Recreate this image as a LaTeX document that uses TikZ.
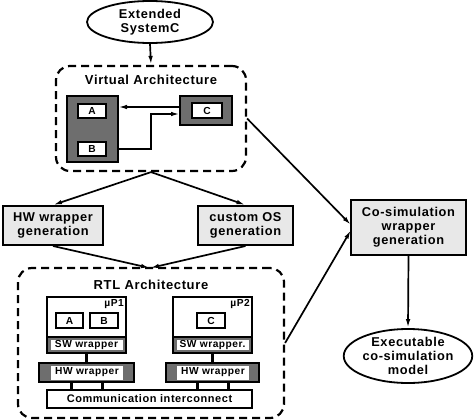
\documentclass[tikz,border=0pt]{standalone}
\usepackage{fontspec}
\setmainfont{Liberation Sans}[LetterSpace=5]
\usetikzlibrary{shapes.geometric,arrows.meta}
\definecolor{dgrey}{gray}{0.43}
\definecolor{lgrey}{gray}{0.91}
\begin{document}
\begin{tikzpicture}[x=1pt,y=-1pt,
  big/.style={font=\fontsize{12.8}{14.2}\selectfont\bfseries},
  title/.style={font=\fontsize{13}{15}\selectfont\bfseries},
  small/.style={font=\fontsize{10.2}{11}\selectfont\bfseries},
  genbox/.style={draw, line width=2pt, fill=lgrey, align=center, inner sep=0, big},
  dashbox/.style={draw, line width=2.2pt, dash pattern=on 8pt off 5pt, rounded corners=14pt, inner sep=0},
  gbox/.style={draw, line width=1.3pt, fill=dgrey, inner sep=0},
  wbox/.style={draw, line width=1.3pt, fill=white, inner sep=0, small},
  plain/.style={inner sep=0, small},
  oval/.style={ellipse, draw, line width=1.8pt, fill=white, align=center, inner sep=0, big},
  arr/.style={line width=1.7pt, -{Latex[length=9pt,width=4.5pt]}},
  link/.style={line width=3pt}
]
\useasboundingbox (0,0) rectangle (474,420);

% top ellipse
\node[oval, minimum width=126pt, minimum height=42pt] (ext) at (150,22) {Extended\\SystemC};

% virtual architecture
\node[dashbox, minimum width=190pt, minimum height=105pt] (va) at (151,118.5) {};
\node[title] (vat) at (151,80) {Virtual Architecture};
\node[gbox, minimum width=51pt, minimum height=66pt] (lg) at (92.5,129) {};
\node[wbox, minimum width=28pt, minimum height=14pt] (a) at (92,111) {A};
\node[wbox, minimum width=28pt, minimum height=14pt] (b) at (92,149) {B};
\node[gbox, minimum width=52pt, minimum height=29pt] (cg) at (206,110.5) {};
\node[wbox, minimum width=30pt, minimum height=15pt] (c) at (207,110.5) {C};
\coordinate (ca) at (180,107);
\coordinate (al) at (118,107);
\coordinate (bc) at (180,114);
\draw[arr] (ca) -- (al);
\draw[arr] (b.east -| lg.east) -- (151,149) -- (151,114) -- (bc);

% generation boxes
\node[genbox, minimum width=100pt, minimum height=39pt] (hwg) at (53,225.5) {HW wrapper\\generation};
\node[genbox, minimum width=95pt, minimum height=39pt] (cos) at (245.5,225.5) {custom OS\\generation};

% RTL architecture
\node[dashbox, minimum width=266pt, minimum height=150pt] (rtl) at (151,343) {};
\node[title] (rtlt) at (151,285) {RTL Architecture};

% uP1
\node[draw, line width=1.3pt, fill=white, minimum width=79pt, minimum height=56pt, inner sep=0] (p1) at (86.5,325) {};
\node[draw, line width=1.3pt, fill=dgrey, minimum width=79pt, minimum height=16pt, inner sep=0] (sw1o) at (86.5,345) {};
\node[plain, fill=white, minimum width=72pt, minimum height=10.5pt] (sw1) at (86.5,345) {SW wrapper};
\node[plain, anchor=north east] (p1l) at (124,299) {µP1};
\node[wbox, minimum width=27pt, minimum height=15pt] (a2) at (69.5,320.5) {A};
\node[wbox, minimum width=28pt, minimum height=15pt] (b2) at (104,320.5) {B};

% uP2
\node[draw, line width=1.3pt, fill=white, minimum width=79pt, minimum height=56pt, inner sep=0] (p2) at (212.5,325) {};
\node[draw, line width=1.3pt, fill=dgrey, minimum width=79pt, minimum height=16pt, inner sep=0] (sw2o) at (212.5,345) {};
\node[plain, fill=white, minimum width=72pt, minimum height=10.5pt] (sw2) at (212.5,345) {SW wrapper.};
\node[plain, anchor=north east] (p2l) at (250,299) {µP2};
\node[wbox, minimum width=28pt, minimum height=15pt] (c2) at (211,320.5) {C};

% HW wrappers
\node[draw, line width=1.3pt, fill=dgrey, minimum width=95pt, minimum height=19pt, inner sep=0] (hw1o) at (86.5,372.5) {};
\node[plain, fill=white, minimum width=72pt, minimum height=14pt] (hw1) at (87,372.5) {HW wrapper};
\node[draw, line width=1.3pt, fill=dgrey, minimum width=93pt, minimum height=19pt, inner sep=0] (hw2o) at (212.5,372.5) {};
\node[plain, fill=white, minimum width=72pt, minimum height=14pt] (hw2) at (213,372.5) {HW wrapper};

% interconnect
\node[draw, line width=1.3pt, fill=white, minimum width=205pt, minimum height=18pt, inner sep=0, font=\fontsize{11}{12}\selectfont\bfseries] (ic) at (149.5,399) {Communication interconnect};

% links
\draw[link] (sw1o.south) -- (hw1o.north);
\draw[link] (sw2o.south) -- (hw2o.north);
\draw[link] (hw1o.south -| 71,0) -- (ic.north -| 71,0);
\draw[link] (hw1o.south -| 102,0) -- (ic.north -| 102,0);
\draw[link] (hw2o.south -| 197,0) -- (ic.north -| 197,0);
\draw[link] (hw2o.south -| 228,0) -- (ic.north -| 228,0);

% co-simulation
\node[genbox, minimum width=115pt, minimum height=55pt] (cs) at (408.5,227.5) {Co-simulation\\wrapper\\generation};
\node[oval, minimum width=127pt, minimum height=54pt] (exe) at (408,356) {Executable\\co-simulation\\model};

% arrows
\coordinate (rtltop) at (150,268);
\coordinate (csin1) at (351,225);
\coordinate (csin2) at (351,230);
\draw[arr] (ext.south) -- (va.north);
\draw[arr] (va.south) -- (hwg.north);
\draw[arr] (va.south) -- (cos.north);
\draw[arr] (hwg.south) -- (rtltop);
\draw[arr] (cos.south) -- (rtltop);
\draw[arr] (va.east) -- (csin1);
\draw[arr] (rtl.east) -- (csin2);
\draw[arr] (cs.south) -- (exe.north);
\end{tikzpicture}
\end{document}
